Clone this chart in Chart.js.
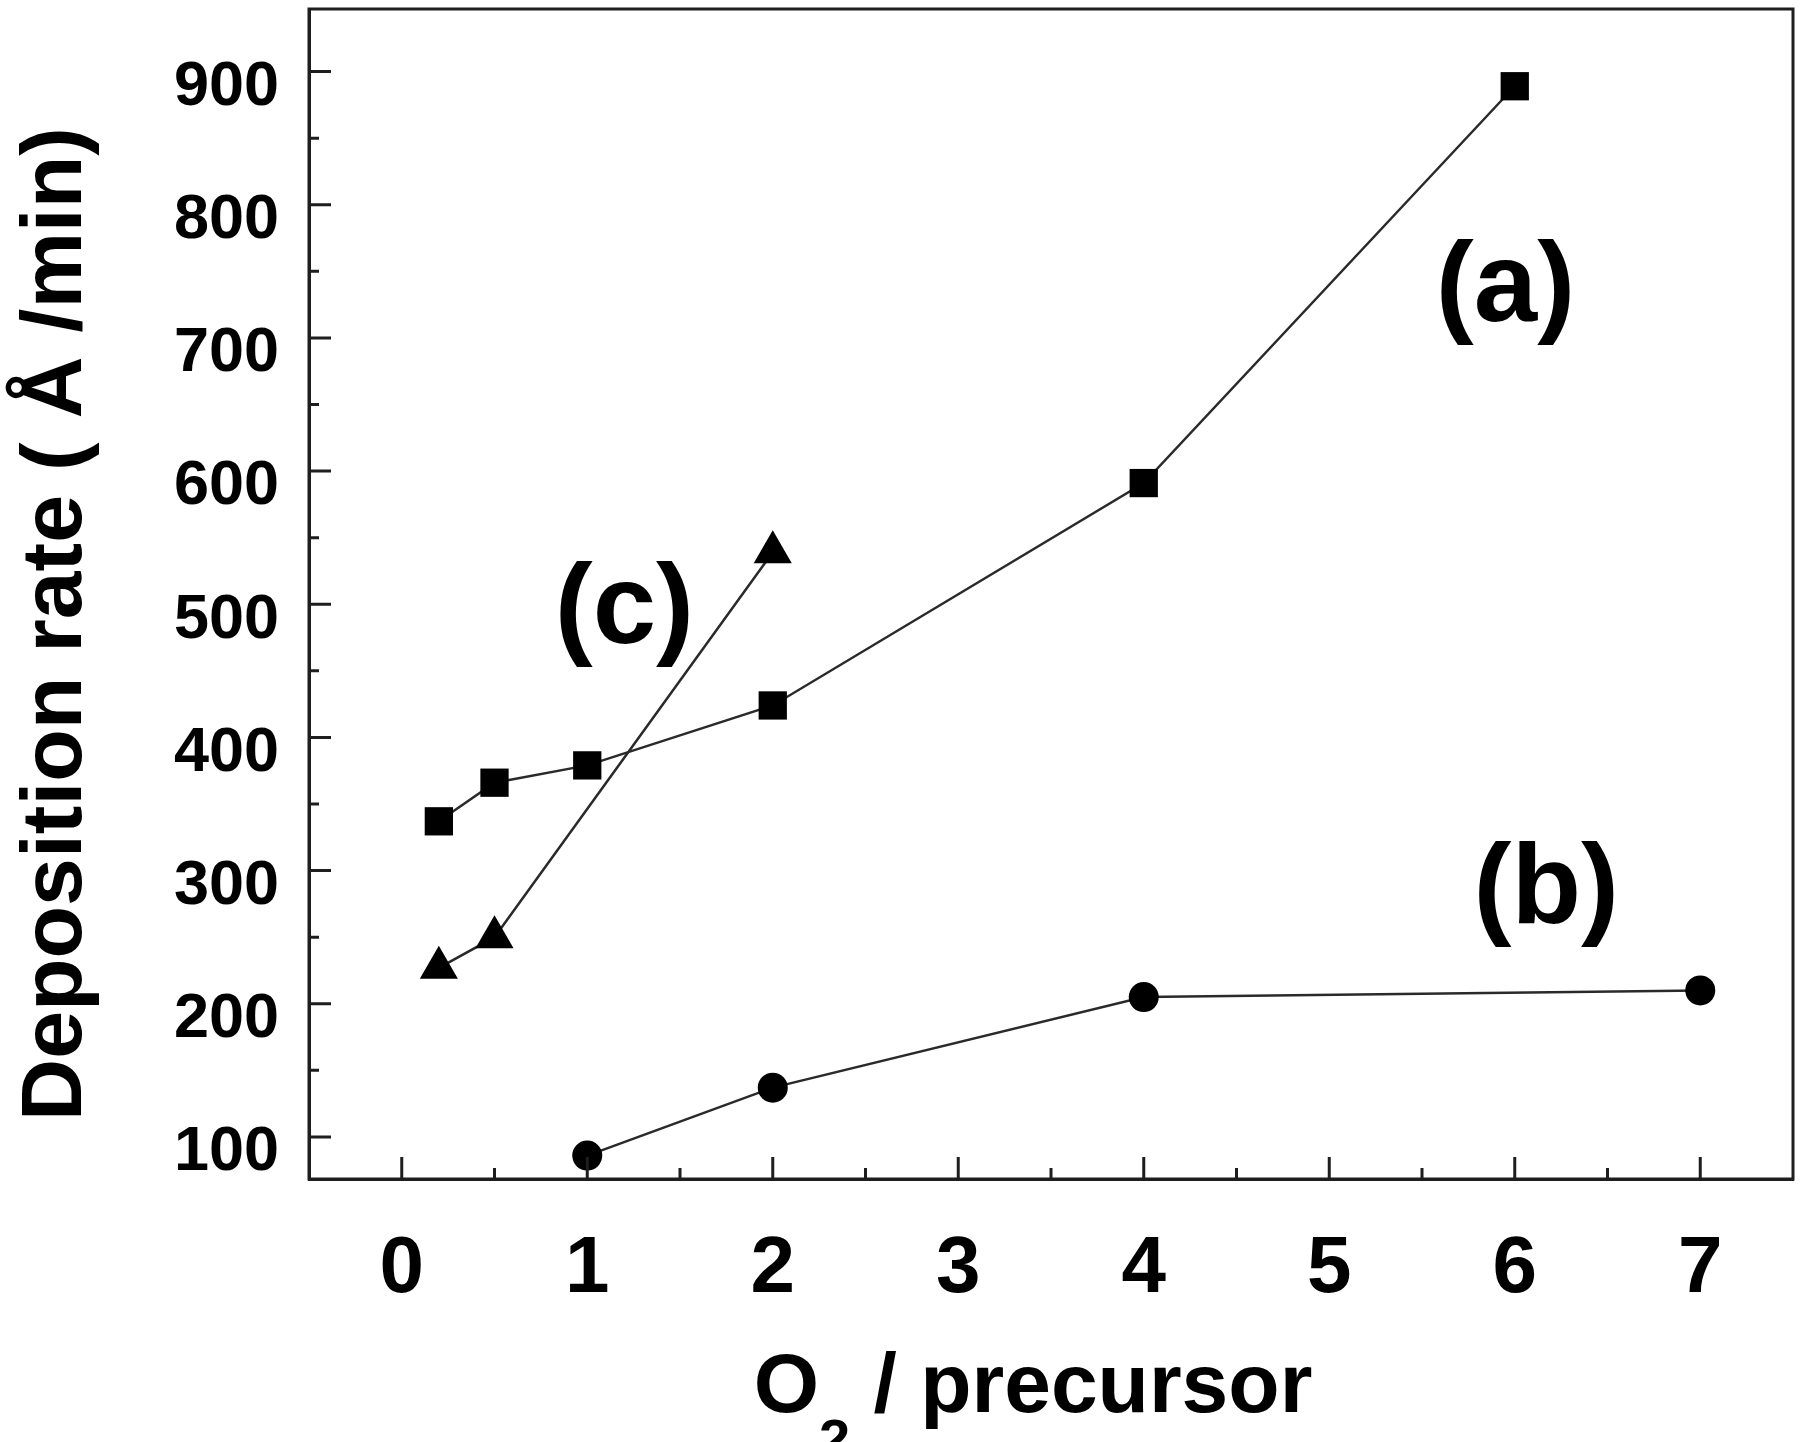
<!DOCTYPE html>
<html>
<head>
<meta charset="utf-8">
<script src="https://cdn.jsdelivr.net/npm/chart.js@4.4.1/dist/chart.umd.min.js"></script>
<style>
html,body{margin:0;padding:0;background:#fff;}
#wrap{width:1800px;height:1442px;position:relative;}
</style>
</head>
<body>
<div id="wrap"><canvas id="c" width="1800" height="1442"></canvas></div>
<script>
// ---- data ----
const xTicks = [0, 1, 2, 3, 4, 5, 6, 7];
const xMinorTicks = [0.5, 1.5, 2.5, 3.5, 4.5, 5.5, 6.5];
const yTicks = [100, 200, 300, 400, 500, 600, 700, 800, 900];
const yMinorTicks = [150, 250, 350, 450, 550, 650, 750, 850];

const seriesA_x = [0.2, 0.5, 1, 2, 4, 6];
const seriesA_y = [337, 366, 379, 424, 591, 889];

const seriesB_x = [1, 2, 4, 7];
const seriesB_y = [86, 137, 205, 210];

const seriesC_x = [0.2, 0.5, 2];
const seriesC_y = [227, 250, 539];

const annoText = ['(a)', '(b)', '(c)'];
const annoX = [5.95, 6.17, 1.2];
const annoY = [735, 283, 493];

const xTitleMain = 'O';
const xTitleSub = '2';
const xTitleRest = ' / precursor';
const yTitle = 'Deposition rate ( Å /min)';

// ---- helpers ----
const FONT = "'Liberation Sans', Arial, Helvetica, sans-serif";
function pts(xs, ys) { return xs.map((v, i) => ({x: v, y: ys[i]})); }

const deco = {
  id: 'deco',
  afterDraw(chart) {
    const {ctx, chartArea: a, scales: {x, y}} = chart;
    ctx.save();
    // frame
    ctx.strokeStyle = '#1e1e1e';
    ctx.lineWidth = 3;
    ctx.strokeRect(a.left, a.top, a.right - a.left, a.bottom - a.top);
    // inward ticks
    ctx.beginPath();
    xTicks.forEach(v => { const p = x.getPixelForValue(v); ctx.moveTo(p, a.bottom); ctx.lineTo(p, a.bottom - 22); });
    xMinorTicks.forEach(v => { const p = x.getPixelForValue(v); ctx.moveTo(p, a.bottom); ctx.lineTo(p, a.bottom - 11); });
    yTicks.forEach(v => { const p = y.getPixelForValue(v); ctx.moveTo(a.left, p); ctx.lineTo(a.left + 22, p); });
    yMinorTicks.forEach(v => { const p = y.getPixelForValue(v); ctx.moveTo(a.left, p); ctx.lineTo(a.left + 10, p); });
    ctx.lineWidth = 3;
    ctx.stroke();

    // annotations
    ctx.fillStyle = '#000';
    const aSize = 114;
    ctx.font = `bold ${aSize}px ${FONT}`;
    ctx.textAlign = 'center';
    ctx.textBaseline = 'alphabetic';
    annoText.forEach((t, i) => {
      const px = x.getPixelForValue(annoX[i]);
      const py = y.getPixelForValue(annoY[i]);
      ctx.fillText(t, px, py + 0.259 * aSize);
    });

    // y title
    ctx.save();
    ctx.font = `bold 86px ${FONT}`;
    ctx.translate(a.left - 228, (a.top + a.bottom) / 2 + 30);
    ctx.rotate(-Math.PI / 2);
    ctx.textAlign = 'center';
    ctx.textBaseline = 'alphabetic';
    ctx.fillText(yTitle, 0, 0);
    ctx.restore();

    // x title with subscript
    const tSize = 84, sSize = 56;
    ctx.textAlign = 'left';
    ctx.textBaseline = 'alphabetic';
    ctx.font = `bold ${tSize}px ${FONT}`;
    const wMain = ctx.measureText(xTitleMain).width;
    const wRest = ctx.measureText(xTitleRest).width;
    ctx.font = `bold ${sSize}px ${FONT}`;
    const wSub = ctx.measureText(xTitleSub).width;
    const total = wMain + wSub + wRest;
    const cx = (a.left + a.right) / 2 - 18;
    let sx = cx - total / 2;
    const base = a.bottom + 233;
    ctx.font = `bold ${tSize}px ${FONT}`;
    ctx.fillText(xTitleMain, sx, base);
    sx += wMain;
    ctx.font = `bold ${sSize}px ${FONT}`;
    ctx.fillText(xTitleSub, sx, base + 46);
    sx += wSub;
    ctx.font = `bold ${tSize}px ${FONT}`;
    ctx.fillText(xTitleRest, sx, base);
    ctx.restore();
  }
};

const lineColor = '#2a2a2a';
new Chart(document.getElementById('c'), {
  type: 'scatter',
  data: {
    datasets: [
      {
        label: '(a)',
        data: pts(seriesA_x, seriesA_y),
        showLine: true,
        borderColor: lineColor,
        borderWidth: 2.5,
        pointStyle: 'rect',
        pointRadius: 20,
        pointBackgroundColor: '#000',
        pointBorderColor: '#000',
        pointBorderWidth: 0
      },
      {
        label: '(b)',
        data: pts(seriesB_x, seriesB_y),
        showLine: true,
        borderColor: lineColor,
        borderWidth: 2.5,
        pointStyle: 'circle',
        pointRadius: 15,
        pointBackgroundColor: '#000',
        pointBorderColor: '#000',
        pointBorderWidth: 0
      },
      {
        label: '(c)',
        data: pts(seriesC_x, seriesC_y),
        showLine: true,
        borderColor: lineColor,
        borderWidth: 2.5,
        pointStyle: 'triangle',
        pointRadius: 22,
        pointBackgroundColor: '#000',
        pointBorderColor: '#000',
        pointBorderWidth: 0
      }
    ]
  },
  options: {
    responsive: false,
    animation: false,
    events: [],
    layout: {autoPadding: false, padding: {top: 9, right: 7, left: 0, bottom: 0}},
    plugins: {legend: {display: false}, tooltip: {enabled: false}, title: {display: false}},
    scales: {
      x: {
        type: 'linear',
        min: -0.5,
        max: 7.5,
        grid: {display: false, drawTicks: false},
        border: {display: true, color: '#1e1e1e', width: 3},
        afterBuildTicks: s => { s.ticks = xTicks.map(v => ({value: v})); },
        afterFit: s => { s.height = 263; s.paddingLeft = 0; s.paddingRight = 0; },
        ticks: {
          autoSkip: false,
          maxRotation: 0,
          padding: 43,
          color: '#000',
          font: {family: FONT, size: 80, weight: 'bold'}
        }
      },
      y: {
        type: 'linear',
        min: 68.4,
        max: 947,
        grid: {display: false, drawTicks: false},
        border: {display: true, color: '#1e1e1e', width: 3},
        afterBuildTicks: s => { s.ticks = yTicks.map(v => ({value: v})); },
        afterFit: s => { s.width = 309; s.paddingTop = 0; s.paddingBottom = 0; },
        ticks: {
          autoSkip: false,
          padding: 30,
          labelOffset: 16,
          color: '#000',
          font: {family: FONT, size: 63, weight: 'bold'}
        }
      }
    }
  },
  plugins: [deco]
});
</script>
</body>
</html>
